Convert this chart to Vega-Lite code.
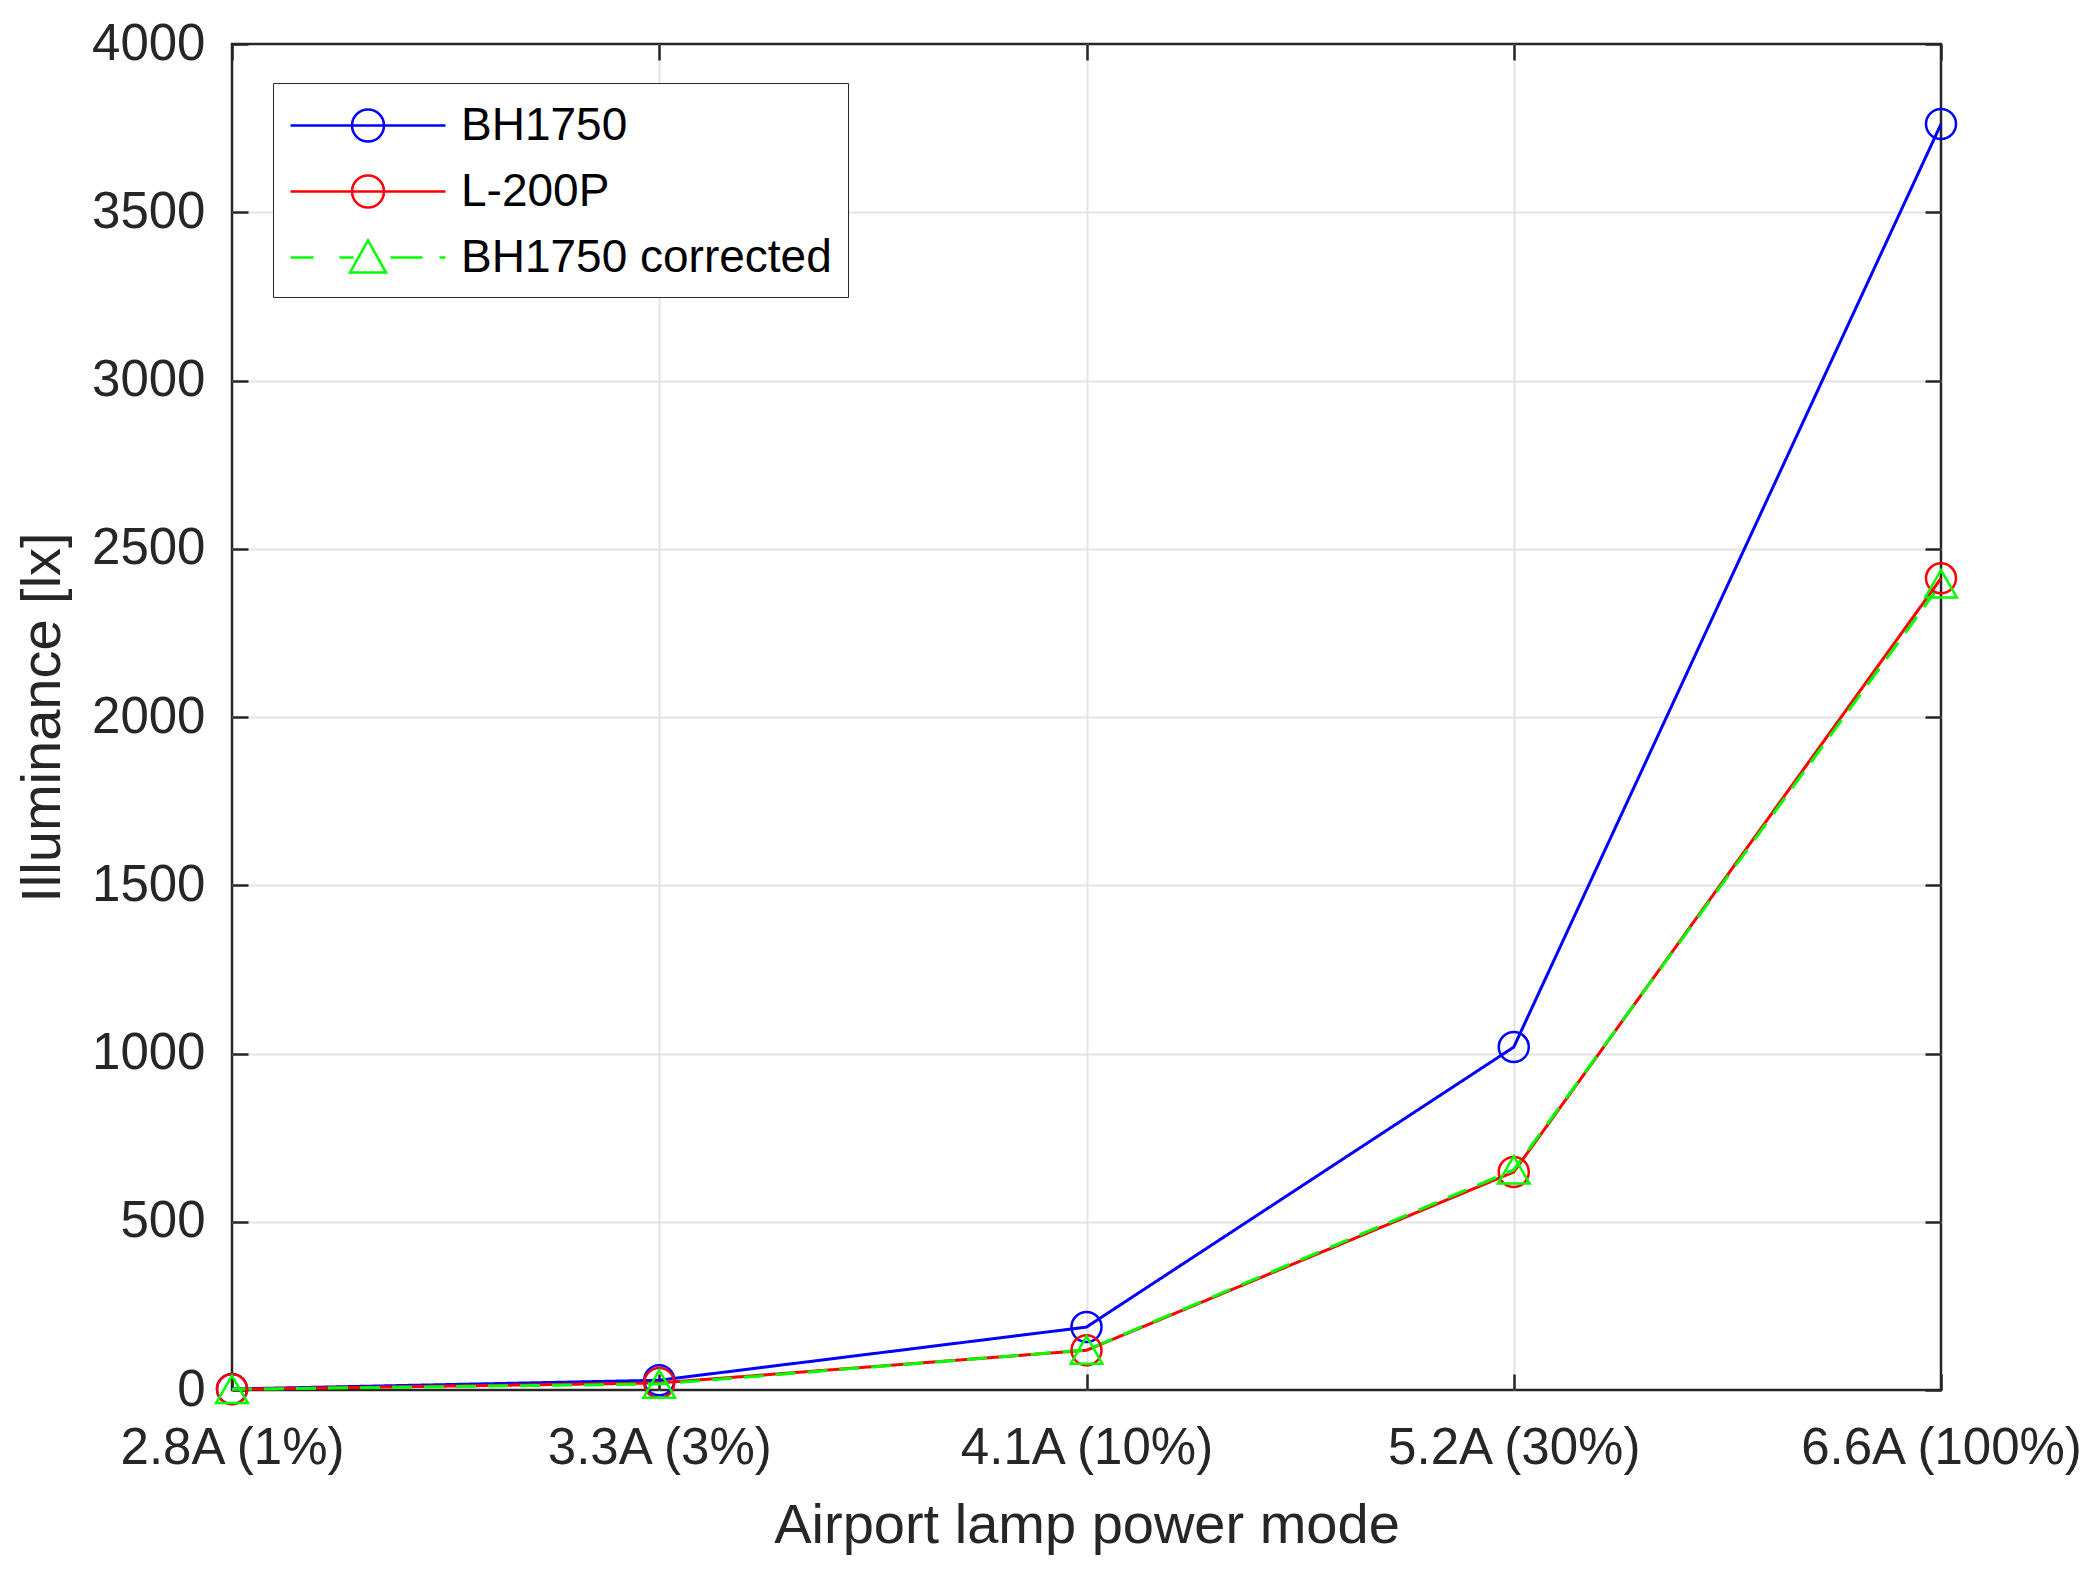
{
  "$schema": "https://vega.github.io/schema/vega-lite/v6.json",
  "width": 1709,
  "height": 1346,
  "autosize": {"type": "none"},
  "padding": {"left": 232, "top": 44, "right": 158, "bottom": 192},
  "background": "white",
  "config": {
    "font": "Liberation Sans",
    "view": {"stroke": "#262626", "strokeWidth": 2.5},
    "axis": {
      "labelFont": "Liberation Sans",
      "titleFont": "Liberation Sans",
      "labelColor": "#262626",
      "titleColor": "#262626",
      "titleFontWeight": "normal",
      "tickColor": "#262626",
      "tickWidth": 2.5,
      "gridWidth": 2,
      "domain": false,
      "labelLimit": 1000
    }
  },
  "data": {
    "values": [
      {"mode": "2.8A (1%)", "series": "BH1750", "lux": 3},
      {"mode": "3.3A (3%)", "series": "BH1750", "lux": 29},
      {"mode": "4.1A (10%)", "series": "BH1750", "lux": 187},
      {"mode": "5.2A (30%)", "series": "BH1750", "lux": 1019},
      {"mode": "6.6A (100%)", "series": "BH1750", "lux": 3762},
      {"mode": "2.8A (1%)", "series": "L-200P", "lux": 2},
      {"mode": "3.3A (3%)", "series": "L-200P", "lux": 21},
      {"mode": "4.1A (10%)", "series": "L-200P", "lux": 118},
      {"mode": "5.2A (30%)", "series": "L-200P", "lux": 648},
      {"mode": "6.6A (100%)", "series": "L-200P", "lux": 2412},
      {"mode": "2.8A (1%)", "series": "BH1750 corrected", "lux": 2},
      {"mode": "3.3A (3%)", "series": "BH1750 corrected", "lux": 18},
      {"mode": "4.1A (10%)", "series": "BH1750 corrected", "lux": 119},
      {"mode": "5.2A (30%)", "series": "BH1750 corrected", "lux": 654},
      {"mode": "6.6A (100%)", "series": "BH1750 corrected", "lux": 2396}
    ]
  },
  "layer": [
    {
      "mark": {"type": "line", "strokeWidth": 3},
      "encoding": {
        "x": {
          "field": "mode", "type": "ordinal", "sort": null,
          "scale": {"type": "point", "padding": 0},
          "axis": {
            "orient": "bottom", "title": "Airport lamp power mode",
            "labelAngle": 0, "labelFontSize": 51, "titleFontSize": 56,
            "tickSize": -16, "labelPadding": 49, "titlePadding": 25,
            "grid": true,
            "gridColor": {"condition": {"test": "datum.value === '2.8A (1%)' || datum.value === '6.6A (100%)'", "value": "transparent"}, "value": "#e3e3e3"}
          }
        },
        "y": {
          "field": "lux", "type": "quantitative",
          "scale": {"domain": [0, 4000], "nice": false},
          "axis": {
            "orient": "left", "title": "Illuminance [lx]",
            "values": [0, 500, 1000, 1500, 2000, 2500, 3000, 3500, 4000],
            "format": "d", "labelFontSize": 51, "titleFontSize": 56,
            "tickSize": -16, "labelPadding": 43, "titlePadding": 20,
            "grid": true,
            "gridColor": {"condition": {"test": "datum.value === 0 || datum.value === 4000", "value": "transparent"}, "value": "#e3e3e3"}
          }
        },
        "detail": {"field": "series", "type": "nominal"},
        "color": {
          "condition": [
            {"test": "datum.series === 'BH1750'", "value": "#0000ff"},
            {"test": "datum.series === 'L-200P'", "value": "#ff0000"}
          ],
          "value": "#00ff00"
        },
        "strokeDash": {
          "condition": {"test": "datum.series === 'BH1750 corrected'", "value": [20, 12]},
          "value": [1, 0]
        }
      }
    },
    {
      "mark": {"type": "point", "filled": false, "strokeWidth": 2.5, "opacity": 1},
      "encoding": {
        "x": {"field": "mode", "type": "ordinal", "sort": null, "axis": null},
        "y": {"field": "lux", "type": "quantitative", "axis": null},
        "color": {
          "condition": [
            {"test": "datum.series === 'BH1750'", "value": "#0000ff"},
            {"test": "datum.series === 'L-200P'", "value": "#ff0000"}
          ],
          "value": "#00ff00"
        },
        "shape": {
          "condition": {"test": "datum.series === 'BH1750 corrected'", "value": "triangle-up"},
          "value": "circle"
        },
        "size": {
          "condition": {"test": "datum.series === 'BH1750 corrected'", "value": 1000},
          "value": 900
        }
      }
    },
    {
      "mark": {"type": "point", "filled": false, "strokeWidth": 2.5, "opacity": 0},
      "encoding": {
        "x": {
          "field": "mode", "type": "ordinal", "sort": null,
          "axis": {"orient": "top", "labels": false, "title": null, "grid": false, "tickSize": -16}
        },
        "y": {
          "field": "lux", "type": "quantitative",
          "axis": {"orient": "right", "labels": false, "title": null, "grid": false, "tickSize": -16,
                   "values": [0, 500, 1000, 1500, 2000, 2500, 3000, 3500, 4000]}
        },
        "color": {
          "field": "series", "type": "nominal",
          "scale": {"domain": ["BH1750", "L-200P", "BH1750 corrected"], "range": ["#0000ff", "#ff0000", "#00ff00"]},
          "legend": {
            "title": null, "orient": "none", "legendX": 41, "legendY": 39,
            "padding": 16, "strokeColor": "#262626", "fillColor": "white",
            "symbolSize": 2500, "symbolStrokeWidth": 2.5, "symbolFillColor": "transparent",
            "symbolOpacity": 1, "labelFontSize": 46, "labelColor": "#000000",
            "labelOffset": 119, "rowPadding": 16, "labelLimit": 1000
          }
        },
        "shape": {
          "field": "series", "type": "nominal",
          "scale": {
            "domain": ["BH1750", "L-200P", "BH1750 corrected"],
            "range": [
              "M-1,0L5.2,0M2.74,0A0.64,0.64,0,1,1,1.46,0A0.64,0.64,0,1,1,2.74,0Z",
              "M-1,0L5.2,0M2.74,0A0.64,0.64,0,1,1,1.46,0A0.64,0.64,0,1,1,2.74,0Z",
              "M-1,0L-0.08,0M0.96,0L1.52,0M3,0L4.28,0M4.96,0L5.2,0M1.38,0.6L2.1,-0.68L2.82,0.6Z"
            ]
          },
          "legend": {
            "title": null, "orient": "none", "legendX": 41, "legendY": 39,
            "padding": 16, "strokeColor": "#262626", "fillColor": "white",
            "symbolSize": 2500, "symbolStrokeWidth": 2.5, "symbolFillColor": "transparent",
            "symbolOpacity": 1, "labelFontSize": 46, "labelColor": "#000000",
            "labelOffset": 119, "rowPadding": 16, "labelLimit": 1000
          }
        }
      }
    }
  ],
  "resolve": {"axis": {"x": "independent", "y": "independent"}}
}
